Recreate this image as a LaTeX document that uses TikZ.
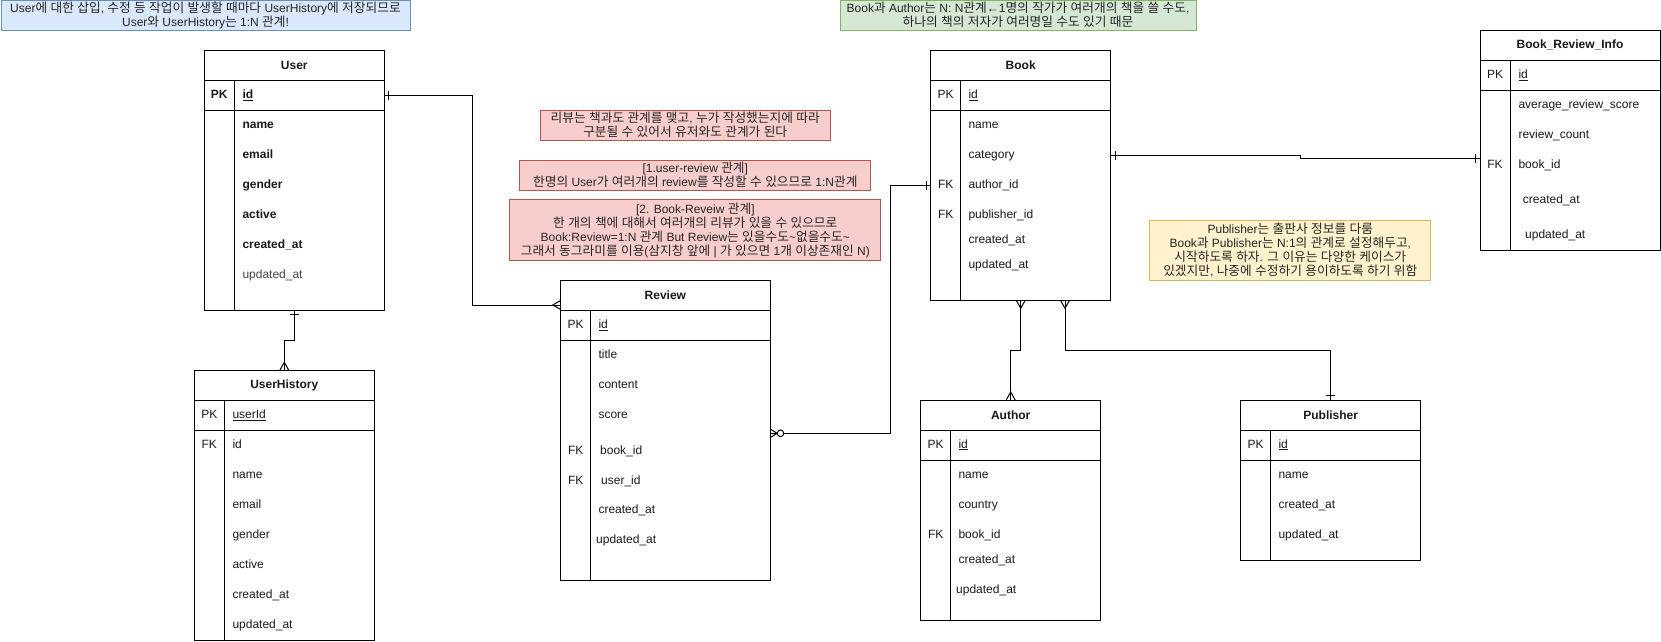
\documentclass[tikz,border=0pt]{standalone}
\usepackage{fontspec}
\setmainfont{Liberation Sans}
\newfontfamily\krfont[Scale=1.06]{Noto Sans CJK KR}
\usetikzlibrary{calc}
% automatic switch to the Korean font for Hangul
\XeTeXinterchartokenstate=1
\newXeTeXintercharclass\krcls
\newcount\kcnt
\kcnt="AC00
\loop \XeTeXcharclass\kcnt=\krcls \advance\kcnt by 1 \ifnum\kcnt<"D7A4 \repeat
\kcnt="3131
\loop \XeTeXcharclass\kcnt=\krcls \advance\kcnt by 1 \ifnum\kcnt<"318F \repeat
\XeTeXinterchartoks 0 \krcls = {\krfont}
\XeTeXinterchartoks 4095 \krcls = {\krfont}
\XeTeXinterchartoks \krcls 0 = {\rmfamily}
\XeTeXinterchartoks \krcls 4095 = {\rmfamily}

\definecolor{bfill}{HTML}{DAE8FC}\definecolor{bdraw}{HTML}{6C8EBF}
\definecolor{gfill}{HTML}{D5E8D4}\definecolor{gdraw}{HTML}{82B366}
\definecolor{rfill}{HTML}{F8CECC}\definecolor{rdraw}{HTML}{B85450}
\definecolor{yfill}{HTML}{FFF2CC}\definecolor{ydraw}{HTML}{D6B656}
\definecolor{txt}{HTML}{1A1A1A}
\definecolor{ntxt}{HTML}{262626}
\definecolor{lgrey}{HTML}{444444}

\tikzset{
  tblbox/.style={draw, line width=1pt, rectangle, inner sep=0pt, outer sep=0pt, fill=white},
  hdr/.style={font=\fontsize{12}{14}\selectfont\bfseries, inner sep=0pt, text=txt},
  fld/.style={font=\fontsize{12}{14}\selectfont, inner sep=0pt, anchor=west, text height=9pt, text depth=3pt, text=txt},
  keyl/.style={font=\fontsize{12}{14}\selectfont, inner sep=0pt, text height=9pt, text depth=3pt, text=txt},
  tline/.style={line width=1pt},
  conn/.style={line width=1pt},
  note/.style={draw, line width=1pt, inner sep=0pt, outer sep=0pt, align=center, font=\fontsize{12}{14}\selectfont, text=ntxt},
}

\newcommand\ertbl[6]{% name, left, top, width, height, title
  \node[tblbox, minimum width=#4pt, minimum height=#5pt, anchor=north west] (#1) at (#2,#3) {};
  \node[hdr] (#1-title) at ({#2+#4/2},{#3+15}) {#6};
  \draw[tline] (#2,{#3+30}) -- ({#2+#4},{#3+30});
  \draw[tline] (#2,{#3+60}) -- ({#2+#4},{#3+60});
  \draw[tline] ({#2+30},{#3+30}) -- ({#2+30},{#3+#5});
}
\newcommand\oneM[2]{\draw[conn, shift={(#1)}, rotate=#2] (4.5,-4.5) -- (4.5,4.5);}
\newcommand\manyM[2]{\draw[conn, shift={(#1)}, rotate=#2] (0,-4.5) -- (8,0) -- (0,4.5);}
\newcommand\zmanyM[2]{\draw[conn, shift={(#1)}, rotate=#2] (0,-4.5) -- (7,0) -- (0,4.5);
  \draw[conn, fill=white, shift={(#1)}, rotate=#2] (10.5,0) circle (3.3);}

\begin{document}
\begin{tikzpicture}[x=1pt, y=-1pt]
\useasboundingbox (0,0) rectangle (1661,641);

% ---------------- notes ----------------
\node[note, fill=bfill, draw=bdraw, minimum width=409pt, minimum height=30pt] (n1) at (205.5,15)
  {User에 대한 삽입, 수정 등 작업이 발생할 때마다 UserHistory에 저장되므로\\User와 UserHistory는 1:N 관계!};
\node[note, fill=gfill, draw=gdraw, minimum width=356pt, minimum height=30pt] (n2) at (1018,15)
  {Book과 Author는 N: N관계←1명의 작가가 여러개의 책을 쓸 수도,\\하나의 책의 저자가 여러명일 수도 있기 때문};
\node[note, fill=rfill, draw=rdraw, minimum width=289.7pt, minimum height=30.3pt] (n3) at (685.2,125.2)
  {리뷰는 책과도 관계를 맺고, 누가 작성했는지에 따라\\구분될 수 있어서 유저와도 관계가 된다};
\node[note, fill=rfill, draw=rdraw, minimum width=350.7pt, minimum height=29.7pt] (n4) at (695.3,175.2)
  {[1.user-review 관계]\\한명의 User가 여러개의 review를 작성할 수 있으므로 1:N관계};
\node[note, fill=rfill, draw=rdraw, minimum width=370.7pt, minimum height=60.7pt] (n5) at (695.3,230.3)
  {[2. Book-Reveiw 관계]\\한 개의 책에 대해서 여러개의 리뷰가 있을 수 있으므로\\Book:Review=1:N 관계 But Review는 있을수도\textasciitilde 없을수도\textasciitilde\\그래서 동그라미를 이용(삼지창 앞에 | 가 있으면 1개 이상존재인 N)};
\node[note, fill=yfill, draw=ydraw, minimum width=280.7pt, minimum height=60pt] (n6) at (1290.3,250)
  {Publisher는 출판사 정보를 다룸\\Book과 Publisher는 N:1의 관계로 설정해두고,\\시작하도록 하자. 그 이유는 다양한 케이스가\\있겠지만, 나중에 수정하기 용이하도록 하기 위함};

% ---------------- tables ----------------
% User
\ertbl{user}{204.3}{50.3}{180}{260}{User}
\node[keyl, font=\fontsize{12}{14}\selectfont\bfseries] (user-pk) at (219.3,95.5) {PK};
\node[fld, font=\fontsize{12}{14}\selectfont\bfseries] (user-id) at (242.3,95.5) {\underline{id}};
\node[fld, font=\fontsize{12}{14}\selectfont\bfseries] (user-name) at (242.3,125.7) {name};
\node[fld, font=\fontsize{12}{14}\selectfont\bfseries] (user-email) at (242.3,155.7) {email};
\node[fld, font=\fontsize{12}{14}\selectfont\bfseries] (user-gender) at (242.3,185.7) {gender};
\node[fld, font=\fontsize{12}{14}\selectfont\bfseries] (user-active) at (242.3,215.7) {active};
\node[fld, font=\fontsize{12}{14}\selectfont\bfseries] (user-created) at (242.3,245.7) {created\_at};
\node[fld, text=lgrey] (user-updated) at (242.3,275.7) {updated\_at};

% UserHistory
\ertbl{uh}{194.3}{370.3}{180}{269.7}{UserHistory}
\node[keyl] (uh-pk) at (209.3,415.3) {PK};
\node[fld] (uh-userid) at (232.3,415.3) {\underline{userId}};
\node[keyl] (uh-fk) at (209.3,445.7) {FK};
\node[fld] (uh-id) at (232.3,445.7) {id};
\node[fld] (uh-name) at (232.3,475.7) {name};
\node[fld] (uh-email) at (232.3,505.7) {email};
\node[fld] (uh-gender) at (232.3,535.7) {gender};
\node[fld] (uh-active) at (232.3,565.7) {active};
\node[fld] (uh-created) at (232.3,595.7) {created\_at};
\node[fld] (uh-updated) at (232.3,625.7) {updated\_at};

% Review
\ertbl{review}{560.7}{280}{209.3}{300.7}{Review}
\node[keyl] (rv-pk) at (575.7,325.3) {PK};
\node[fld] (rv-id) at (598.3,325.3) {\underline{id}};
\node[fld] (rv-title) at (598.3,355.7) {title};
\node[fld] (rv-content) at (598.3,385.7) {content};
\node[fld] (rv-score) at (598.3,415.7) {score};
\node[keyl] (rv-fk1) at (575.7,451.7) {FK};
\node[fld] (rv-bookid) at (600,451.7) {book\_id};
\node[keyl] (rv-fk2) at (575.7,481) {FK};
\node[fld] (rv-userid) at (601,481) {user\_id};
\node[fld] (rv-created) at (598.3,510.7) {created\_at};
\node[fld] (rv-updated) at (596,540.7) {updated\_at};

% Book
\ertbl{book}{930.7}{50.3}{180}{250}{Book}
\node[keyl] (book-pk) at (945.7,95.3) {PK};
\node[fld] (book-id) at (968.3,95.3) {\underline{id}};
\node[fld] (book-name) at (968.3,125.7) {name};
\node[fld] (book-category) at (968.3,155.7) {category};
\node[keyl] (book-fk1) at (945.7,185.7) {FK};
\node[fld] (book-authorid) at (968.3,185.7) {author\_id};
\node[keyl] (book-fk2) at (945.7,215.7) {FK};
\node[fld] (book-publisherid) at (968.3,215.7) {publisher\_id};
\node[fld] (book-created) at (968.3,240.7) {created\_at};
\node[fld] (book-updated) at (968.3,265.7) {updated\_at};

% Book_Review_Info
\ertbl{bri}{1480}{30.3}{180}{220}{Book\_Review\_Info}
\node[keyl] (bri-pk) at (1495,75.3) {PK};
\node[fld] (bri-id) at (1518.3,75.3) {\underline{id}};
\node[fld] (bri-avg) at (1518.3,105.7) {average\_review\_score};
\node[fld] (bri-count) at (1518.3,135.7) {review\_count};
\node[keyl] (bri-fk) at (1495,165.7) {FK};
\node[fld] (bri-bookid) at (1518.3,165.7) {book\_id};
\node[fld] (bri-created) at (1522.7,200.7) {created\_at};
\node[fld] (bri-updated) at (1525,235.7) {updated\_at};

% Author
\ertbl{author}{920.7}{400}{180}{220}{Author}
\node[keyl] (au-pk) at (935.7,445) {PK};
\node[fld] (au-id) at (958.3,445) {\underline{id}};
\node[fld] (au-name) at (958.3,475.7) {name};
\node[fld] (au-country) at (958.3,505.7) {country};
\node[keyl] (au-fk) at (935.7,535.7) {FK};
\node[fld] (au-bookid) at (958.3,535.7) {book\_id};
\node[fld] (au-created) at (958.3,560.7) {created\_at};
\node[fld] (au-updated) at (956,590.7) {updated\_at};

% Publisher
\ertbl{publisher}{1240.7}{400}{180}{160}{Publisher}
\node[keyl] (pb-pk) at (1255.7,445) {PK};
\node[fld] (pb-id) at (1278.3,445) {\underline{id}};
\node[fld] (pb-name) at (1278.3,475.7) {name};
\node[fld] (pb-created) at (1278.3,505.7) {created\_at};
\node[fld] (pb-updated) at (1278.3,535.7) {updated\_at};

% ---------------- connectors ----------------
\coordinate (rv-in) at ($(review.north west)+(0,25)$);
\coordinate (rv-out) at ($(review.north east)+(0,153.3)$);
\coordinate (bri-in) at ($(bri.north west)+(0,127.7)$);
\coordinate (bk-pub) at ($(book.south)+(44.3,0)$);

% User - Review
\draw[conn] (user.east |- user-id) -| (472.7,200) |- (rv-in);
\oneM{user.east |- user-id}{0}
\manyM{rv-in}{180}
% Review - Book
\draw[conn] (rv-out) -| (890,300) |- (book.west |- book-authorid);
\zmanyM{rv-out}{0}
\oneM{book.west |- book-authorid}{180}
% Book - Book_Review_Info
\draw[conn] (book.east |- book-category) -| (1300,157) |- (bri-in);
\oneM{book.east |- book-category}{0}
\oneM{bri-in}{180}
% Book - Author
\draw[conn] (book.south) -- ++(0,50) -| (author.north);
\manyM{book.south}{-90}
\manyM{author.north}{90}
% Book - Publisher
\draw[conn] (bk-pub) -- ++(0,50) -| (publisher.north);
\manyM{bk-pub}{-90}
\oneM{publisher.north}{90}
% User - UserHistory
\draw[conn] (user.south) -- ++(0,29.7) -| (uh.north);
\oneM{user.south}{-90}
\manyM{uh.north}{90}
\end{tikzpicture}
\end{document}
